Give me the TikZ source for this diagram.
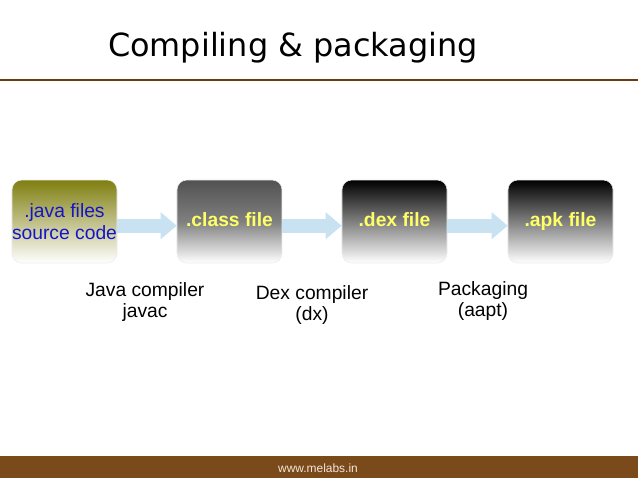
\documentclass[tikz,border=0pt]{standalone}
\usepackage{fontspec}
\setmainfont{Liberation Sans}
\newfontfamily\titlefont{DejaVu Sans}
\usepackage{tikz}
\usetikzlibrary{arrows.meta,positioning,calc}
\definecolor{brownline}{HTML}{6E3B0E}
\definecolor{brownbar}{HTML}{7B4A1B}
\definecolor{footertext}{HTML}{F2E6D8}
\definecolor{olivetop}{HTML}{7F7F10}
\definecolor{olivemid}{HTML}{A8A850}
\definecolor{javablue}{HTML}{1515C8}
\definecolor{fileyellow}{HTML}{FFFF66}
\definecolor{flowblue}{HTML}{C8E2F2}

\begin{document}
\begin{tikzpicture}[x=0.025cm, y=-0.025cm]
    % Stili
    \tikzset{
        filebox/.style={rectangle, rounded corners=7pt, draw=gray!15, minimum width=74.7pt, minimum height=59pt, inner sep=0pt, align=center, font=\fontsize{13.7}{15.5}\selectfont},
        outfile/.style={filebox, top color=black, middle color=black!78, bottom color=white, text=fileyellow, text height=9.8pt, text depth=2.9pt, font=\fontsize{13.7}{15.5}\selectfont\bfseries},
        flow/.style={flowblue, line width=10pt, -{Triangle[length=11.4pt, width=18.5pt]}},
        steplabel/.style={align=center, font=\fontsize{13.7}{15.6}\selectfont}
    }
    \useasboundingbox (0,0) rectangle (638,478);

    % Titolo
    \node[anchor=base, font=\titlefont\fontsize{22.7}{27}\selectfont] (title) at (293,57) {Compiling \& packaging};
    \draw[brownline, line width=1.4pt] (0,80) -- (638,80);

    % File
    \node[filebox, top color=olivetop, middle color=olivemid, bottom color=white, text=javablue] (java) at (64.5,221.5) {.java files\\source code};
    \node[outfile, top color=black!68, middle color=black!50] (class) at (229.5,221.5) {.class file};
    \node[outfile] (dex) at (394.5,221.5) {.dex file};
    \node[outfile] (apk) at (560.5,221.5) {.apk file};

    % Frecce
    \draw[flow] ([yshift=-3pt]java.east) -- ([yshift=-3pt]class.west);
    \draw[flow] ([yshift=-3pt]class.east) -- ([yshift=-3pt]dex.west);
    \draw[flow] ([yshift=-3pt]dex.east) -- ([yshift=-3pt]apk.west);

    % Strumenti
    \node[steplabel] (javac) at (145,302) {Java compiler\\javac};
    \node[steplabel] (dx) at (312,305) {Dex compiler\\(dx)};
    \node[steplabel] (aapt) at (483,301) {Packaging\\(aapt)};

    % Pie di pagina
    \fill[brownbar] (0,456) rectangle (638,478);
    \node[text=footertext, font=\fontsize{8.5}{10}\selectfont] (footer) at (318,468) {www.melabs.in};
\end{tikzpicture}
\end{document}
